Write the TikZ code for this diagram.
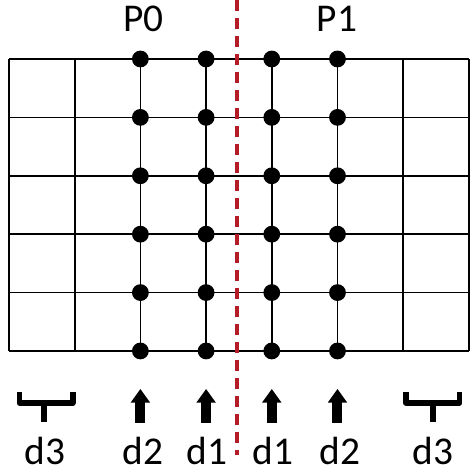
\documentclass[tikz,border=0pt]{standalone}
\usepackage{fontspec}
\setmainfont{Carlito}
\usetikzlibrary{arrows.meta}
\definecolor{cutred}{RGB}{180,28,40}
\tikzset{
  vtx/.style={circle,inner sep=0pt,minimum size=0.42cm,fill=black},
  lbl/.style={font=\fontsize{28}{28}\selectfont},
  uparr/.style={line width=0.25cm,-{Triangle[width=0.46cm,length=0.34cm]}},
  brk/.style={line width=0.14cm,line join=round},
}
\begin{document}
\begin{tikzpicture}[x=1.6425cm,y=1.46cm]
      \useasboundingbox (-0.137,-2.106) rectangle (7.078,6.010);
      \foreach \i in {0,...,7}
        \draw[line width=1.2pt] (\i,0) -- (\i,5);
      \foreach \j in {0,...,5}
        \draw[line width=1.2pt] (0,\j) -- (7,\j);
      \draw[cutred,line width=0.08cm,dash pattern=on 0.28cm off 0.17cm] (3.47,6.01) -- (3.47,-1.78);
      \foreach \i in {2,...,5}
        \foreach \j in {0,...,5}
          \node[vtx] (v\i\j) at (\i,\j) {};
      \node[lbl] (p0) at (2.05,5.685) {P0};
      \node[lbl] (p1) at (4.99,5.685) {P1};
      % arrows under the dotted columns
      \foreach \i in {2,...,5} {
        \coordinate (s\i) at (\i,-1.233);
        \coordinate (t\i) at (\i,-0.65);
        \draw[uparr] (s\i) -- (t\i);
      }
      % brackets for the outer columns
      \draw[brk] (0.16,-0.70) -- (0.16,-0.89) -- (0.97,-0.89) -- (0.97,-0.70);
      \draw[brk] (0.53,-0.89) -- (0.53,-1.216);
      \draw[brk] (6.04,-0.70) -- (6.04,-0.89) -- (6.86,-0.89) -- (6.86,-0.70);
      \draw[brk] (6.45,-0.89) -- (6.45,-1.216);
      \node[lbl,anchor=base] (d3l) at (0.55,-1.952) {d3};
      \node[lbl,anchor=base] (d2l) at (2.04,-1.952) {d2};
      \node[lbl,anchor=base] (d1l) at (3.01,-1.952) {d1};
      \node[lbl,anchor=base] (d1r) at (4.02,-1.952) {d1};
      \node[lbl,anchor=base] (d2r) at (5.04,-1.952) {d2};
      \node[lbl,anchor=base] (d3r) at (6.45,-1.952) {d3};
\end{tikzpicture}
\end{document}
